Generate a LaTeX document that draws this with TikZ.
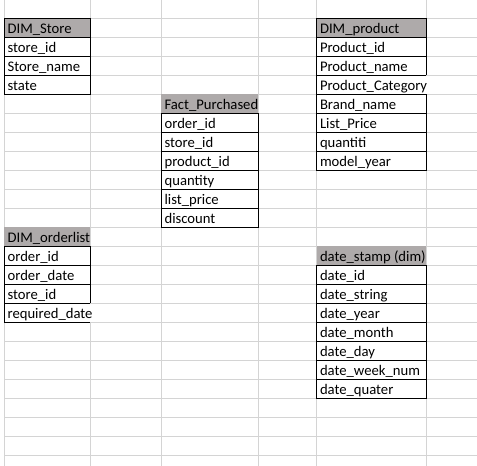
\documentclass[tikz,border=0pt]{standalone}
\usepackage{fontspec}
\setmainfont{Carlito}
\definecolor{gridgray}{RGB}{212,212,212}
\definecolor{hdrgray}{RGB}{174,170,170}
\tikzset{
  gridline/.style={draw=gridgray, line width=1bp},
  border/.style={draw=black, line width=1bp},
  hdrfill/.style={fill=hdrgray},
  txt/.style={anchor=base west, inner sep=0pt, font=\fontsize{14.72}{16}\selectfont},
}
\begin{document}
\begin{tikzpicture}[x=1bp,y=-1bp]
\useasboundingbox (0,0) rectangle (477,466);
\fill[white] (0,0) rectangle (477,466);
% spreadsheet grid
\foreach \k in {0,...,23} \draw[gridline] (4.3,{18.3+19*\k}) -- (477,{18.3+19*\k});
\foreach \x in {4.3,90.3,161.3,258.3,316.7,426.3} \draw[gridline] (\x,0) -- (\x,466);
% overflowing text hides gridlines
\fill[white] (425.6,75.9) rectangle (427,93.7);
\fill[white] (89.6,303.9) rectangle (91,321.7);
% header fills
\fill[hdrfill] (4.3,18.3) rectangle (90.3,37.3);
\fill[hdrfill] (316.7,18.3) rectangle (426.3,37.3);
\fill[hdrfill] (161.3,94.3) rectangle (258.3,113.3);
\fill[hdrfill] (4.3,227.3) rectangle (90.3,246.3);
\fill[hdrfill] (316.7,246.3) rectangle (426.3,265.3);
% DIM_Store borders
\draw[border] (4.3,18.3) rectangle (90.3,94.3);
\foreach \k in {1,2,3} \draw[border] (4.3,{18.3+19*\k}) -- (90.3,{18.3+19*\k});
% DIM_product borders
\draw[border] (426.3,75.3) -- (426.3,18.3) -- (316.7,18.3) -- (316.7,170.3) -- (426.3,170.3) -- (426.3,94.3);
\foreach \k in {1,...,7} \draw[border] (316.7,{18.3+19*\k}) -- (426.3,{18.3+19*\k});
% Fact_Purchased borders
\draw[border] (161.3,113.3) rectangle (258.3,227.3);
\foreach \k in {6,...,10} \draw[border] (161.3,{18.3+19*\k}) -- (258.3,{18.3+19*\k});
% DIM_orderlist borders
\draw[border] (90.3,303.3) -- (90.3,246.3) -- (4.3,246.3) -- (4.3,322.3) -- (90.3,322.3);
\foreach \k in {13,14,15} \draw[border] (4.3,{18.3+19*\k}) -- (90.3,{18.3+19*\k});
% date_stamp borders
\draw[border] (316.7,265.3) rectangle (426.3,398.3);
\foreach \k in {14,...,19} \draw[border] (316.7,{18.3+19*\k}) -- (426.3,{18.3+19*\k});
% texts
\foreach [count=\i from 0] \t in {DIM\_Store, store\_id, Store\_name, state}
  \node[txt] (store\i) at (7.4,{18.3+19*(\i+1)-3.4}) {\t};
\foreach [count=\i from 0] \t in {DIM\_product, Product\_id, Product\_name, Product\_Category, Brand\_name, List\_Price, quantiti, model\_year}
  \node[txt] (prod\i) at (319.8,{18.3+19*(\i+1)-3.4}) {\t};
\foreach [count=\i from 0] \t in {Fact\_Purchased, order\_id, store\_id, product\_id, quantity, list\_price, discount}
  \node[txt] (fact\i) at (164.4,{18.3+19*(\i+5)-3.4}) {\t};
\foreach [count=\i from 0] \t in {DIM\_orderlist, order\_id, order\_date, store\_id, required\_date}
  \node[txt] (ord\i) at (7.4,{18.3+19*(\i+12)-3.4}) {\t};
\foreach [count=\i from 0] \t in {date\_stamp (dim), date\_id, date\_string, date\_year, date\_month, date\_day, date\_week\_num, date\_quater}
  \node[txt] (date\i) at (319.8,{18.3+19*(\i+13)-3.4}) {\t};
\end{tikzpicture}
\end{document}
